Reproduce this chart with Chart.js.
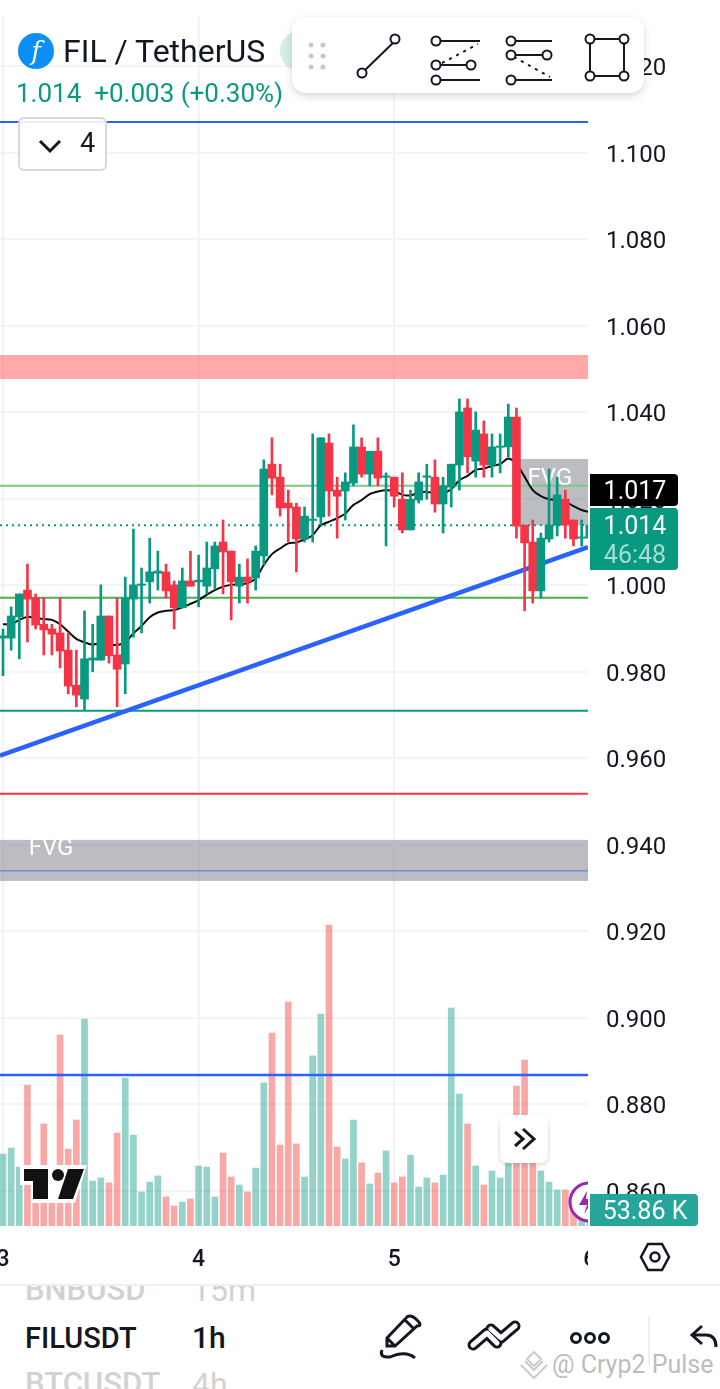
<!DOCTYPE html>
<html>
<head>
<meta charset="utf-8">
<title>FILUSDT 1h</title>
<script src="https://cdn.jsdelivr.net/npm/chart.js@4"></script>
<style>
  html, body { margin: 0; padding: 0; background: #fff; font-family: Roboto, sans-serif; color: #131722; }
  #wrap { position: relative; width: 720px; height: 1389px; overflow: hidden; }
  #chart { position: absolute; left: 0; top: 0; }
  .ov { position: absolute; white-space: nowrap; }
  .tag { color: #fff; text-align: center; font-size: 25px; border-radius: 0 4px 4px 0; padding-left: 2px; box-sizing: border-box; }
  svg { position: absolute; overflow: visible; }
</style>
</head>
<body>
<div id="wrap">
  <canvas id="chart" width="720" height="1389"></canvas>

  <!-- header -->
  <div class="ov" style="left:280px;top:31px;width:40px;height:40px;border-radius:50%;background:#d5eee9"></div>
  <div class="ov" style="left:18px;top:33px;width:36px;height:36px;border-radius:50%;background:#0a90f5;color:#fff;font:italic 26px/36px 'DejaVu Serif',serif;text-align:center">f</div>
  <div class="ov" style="left:63px;top:33px;font-size:32px;line-height:36px">FIL / TetherUS</div>
  <div class="ov" style="left:16px;top:76px;font-size:26px;line-height:34px;color:#089981">1.014&nbsp; +0.003 (+0.30%)</div>
  <div class="ov" style="left:18px;top:117px;width:85px;height:50px;border:2px solid #d8d8d8;border-radius:6px;background:rgba(255,255,255,.9)">
    <svg style="left:18px;top:20px" width="24" height="14"><path d="M2 2l10 10L22 2" fill="none" stroke="#131722" stroke-width="3"/></svg>
    <div class="ov" style="left:60px;top:8px;font-size:27px;line-height:32px">4</div>
  </div>

  <!-- drawing toolbar -->
  <div class="ov" style="left:292px;top:17px;width:352px;height:76px;background:#fff;border-radius:14px;box-shadow:0 3px 8px rgba(0,0,0,.16)"></div>
  <svg style="left:292px;top:17px" width="352" height="76" fill="#fff" stroke="#131722" stroke-width="2">
    <g fill="#c9c9c9" stroke="none">
      <circle cx="19" cy="28" r="2.5"/><circle cx="31" cy="28" r="2.5"/>
      <circle cx="19" cy="39" r="2.5"/><circle cx="31" cy="39" r="2.5"/>
      <circle cx="19" cy="50" r="2.5"/><circle cx="31" cy="50" r="2.5"/>
    </g>
    <path d="M71 55L103 24"/><circle cx="70" cy="56" r="4.5"/><circle cx="103" cy="22" r="4.5"/>
    <path d="M148 24h40M148 48h30M148 63h40"/><path d="M150 46L186 27" stroke-dasharray="3 5"/>
    <circle cx="144" cy="24" r="4.5"/><circle cx="144" cy="48" r="4.5"/><circle cx="179" cy="48" r="4.5"/><circle cx="144" cy="63" r="4.5"/>
    <path d="M220 24h40M220 38h30M220 63h40"/><path d="M222 40L258 60" stroke-dasharray="3 5"/>
    <circle cx="219" cy="24" r="4.5"/><circle cx="219" cy="38" r="4.5"/><circle cx="255" cy="38" r="4.5"/><circle cx="219" cy="63" r="4.5"/>
    <rect x="298" y="22" width="34" height="37"/><circle cx="298" cy="22" r="4.5"/><circle cx="332" cy="22" r="4.5"/><circle cx="298" cy="59" r="4.5"/><circle cx="332" cy="59" r="4.5"/>
  </svg>

  <!-- logo and scroll button -->
  <svg style="left:22px;top:1167px" width="66" height="34">
    <path d="M-2 -2H65L53 36H9V18H-2Z" fill="#fff"/>
    <path d="M2 2H26V32H11V14H2Z M46 2H62L51 32H36Z" fill="#111"/><circle cx="36" cy="8" r="6" fill="#111"/>
  </svg>
  <div class="ov" style="left:500px;top:1115px;width:48px;height:48px;border-radius:8px;background:#fff;box-shadow:0 2px 5px rgba(0,0,0,.15)">
    <svg style="left:14px;top:12px" width="22" height="24" fill="none" stroke="#131722" stroke-width="3"><path d="M1 5l8 7-8 7M9 2l11 10-11 10"/></svg>
  </div>
  <div class="ov" style="left:560px;top:1176px;width:28px;height:54px;overflow:hidden">
    <svg style="left:9px;top:6px" width="40" height="40"><circle cx="20" cy="20" r="19" fill="#fff" stroke="#9c27b0" stroke-width="3"/><path d="M18 9L10 23h8l-3 9 10-15h-8z" fill="#9c27b0"/></svg>
  </div>

  <!-- price scale labels -->
  <div class="ov tag" style="left:590px;top:474px;width:88px;height:32px;background:#000;line-height:34px">1.017</div>
  <div class="ov tag" style="left:590px;top:508px;width:88px;height:62px;background:#089981;line-height:29px;padding-top:3px">1.014<br><span style="color:#a8dcd1">46:48</span></div>
  <div class="ov tag" style="left:590px;top:1194px;width:108px;height:32px;background:#26a69a;line-height:34px">53.86 K</div>

  <!-- time scale corner -->
  <div class="ov" style="left:588px;top:1230px;width:132px;height:54px;background:#fff"></div>
  <svg style="left:640px;top:1242px" width="30" height="30" fill="none" stroke="#131722" stroke-width="2.5"><path d="M8 2h14l7 13-7 13H8L1 15z"/><circle cx="15" cy="15" r="4.5"/></svg>

  <!-- bottom bar -->
  <div class="ov" style="left:0;top:1284px;width:720px;height:105px;background:#fff;border-top:2px solid #efefef;overflow:hidden">
    <div class="ov" style="left:25px;top:-13px;font-size:31px;line-height:34px;font-weight:500;color:#d2d2d2">BNBUSD</div>
    <div class="ov" style="left:192px;top:-13px;font-size:32px;line-height:34px;color:#d2d2d2">15m</div>
    <div class="ov" style="left:25px;top:34px;font-size:29px;line-height:36px;font-weight:500">FILUSDT</div>
    <div class="ov" style="left:192px;top:34px;font-size:30px;line-height:36px;font-weight:500">1h</div>
    <div class="ov" style="left:25px;top:80px;width:135px;overflow:hidden;font-size:31px;line-height:36px;font-weight:500;color:#d2d2d2">BTCUSDT</div>
    <div class="ov" style="left:192px;top:80px;font-size:32px;line-height:36px;color:#d2d2d2">4h</div>
    <svg style="left:378px;top:28px" width="44" height="48" fill="none" stroke="#131722" stroke-width="3">
      <path d="M9 24L29 3Q33 0 39 6T39 12L17 32H9ZM27 6l8 8M9 24l8 8"/>
      <path d="M4 36Q1 44 12 43Q28 36 37 44"/>
    </svg>
    <svg style="left:470px;top:32px" width="48" height="34" fill="none" stroke-linecap="round" stroke-linejoin="round">
      <g stroke="#131722" stroke-width="11"><path d="M3 27L17 15L27 25"/><path d="M21 11L31 20L45 8"/></g>
      <g stroke="#fff" stroke-width="5"><path d="M3 27L17 15L27 25"/><path d="M21 11L31 20L45 8"/></g>
    </svg>
    <svg style="left:570px;top:44px" width="42" height="16" fill="none" stroke="#131722" stroke-width="3"><circle cx="6" cy="8" r="4.5"/><circle cx="20" cy="8" r="4.5"/><circle cx="34" cy="8" r="4.5"/></svg>
    <div class="ov" style="left:648px;top:30px;width:2px;height:50px;background:#efefef"></div>
    <svg style="left:690px;top:38px" width="30" height="28" fill="none" stroke="#131722" stroke-width="3"><path d="M12 2L2 11l10 9M2 11h14c7 0 10 5 10 12"/></svg>
  </div>

  <!-- watermark -->
  <svg style="left:520px;top:1351px" width="28" height="28" fill="none" stroke="rgba(140,140,140,.45)" stroke-width="2"><path d="M14 1l7 7-7 7-7-7zM5 10l9 9 9-9M1 14l13 13 13-13"/></svg>
  <div class="ov" style="left:552px;top:1348px;font-size:25px;line-height:34px;color:rgba(130,130,130,.55)">@ Cryp2 Pulse</div>
</div>

<script>
// hourly candles, day 3 00:00 onward
const opens = [
  0.9878, 0.9878, 0.9927, 0.9989, 0.9971, 0.9910, 0.9899, 0.9890, 0.9850, 0.9769, 0.9737, 0.9827,
  0.9827, 0.9929, 0.9839, 0.9818, 0.9968, 1.0000, 1.0008, 1.0028, 1.0031, 1.0001, 0.9948, 1.0010,
  1.0008, 0.9998, 1.0038, 1.0100, 1.0079, 0.9998, 1.0019, 1.0017, 1.0068, 1.0280, 1.0250, 1.0190,
  1.0181, 1.0107, 1.0150, 1.0158, 1.0329, 1.0220, 1.0218, 1.0236, 1.0320, 1.0257, 1.0310, 1.0250,
  1.0250, 1.0199, 1.0128, 1.0197, 1.0250, 1.0250, 1.0188, 1.0227, 1.0278, 1.0410, 1.0287, 1.0350,
  1.0278, 1.0319, 1.0320, 1.0389, 1.0139, 1.0100, 0.9987, 1.0107, 1.0139, 1.0199, 1.0151, 1.0109,
  1.0109];
const highs = [
  0.9899, 0.9950, 0.9980, 1.0049, 0.9980, 0.9971, 0.9910, 0.9971, 0.9890, 0.9850, 0.9941, 0.9910,
  1.0001, 0.9929, 0.9971, 1.0019, 1.0130, 1.0040, 1.0109, 1.0079, 1.0049, 1.0010, 1.0040, 1.0079,
  1.0070, 1.0100, 1.0100, 1.0151, 1.0079, 1.0049, 1.0061, 1.0091, 1.0290, 1.0341, 1.0280, 1.0220,
  1.0190, 1.0181, 1.0350, 1.0341, 1.0350, 1.0250, 1.0260, 1.0371, 1.0341, 1.0310, 1.0341, 1.0260,
  1.0250, 1.0260, 1.0220, 1.0260, 1.0280, 1.0290, 1.0250, 1.0280, 1.0431, 1.0431, 1.0401, 1.0380,
  1.0350, 1.0350, 1.0419, 1.0410, 1.0139, 1.0151, 1.0121, 1.0269, 1.0250, 1.0220, 1.0151, 1.0151,
  1.0139];
const lows = [
  0.9791, 0.9850, 0.9830, 0.9869, 0.9899, 0.9839, 0.9839, 0.9809, 0.9749, 0.9719, 0.9712, 0.9800,
  0.9827, 0.9820, 0.9719, 0.9749, 0.9880, 0.9890, 0.9959, 0.9989, 0.9971, 0.9899, 0.9948, 0.9998,
  0.9950, 0.9980, 0.9991, 0.9980, 0.9920, 0.9959, 0.9959, 0.9989, 1.0047, 1.0209, 1.0160, 1.0100,
  1.0031, 1.0100, 1.0100, 1.0139, 1.0160, 1.0109, 1.0151, 1.0230, 1.0250, 1.0230, 1.0230, 1.0091,
  1.0181, 1.0121, 1.0128, 1.0190, 1.0199, 1.0169, 1.0121, 1.0181, 1.0220, 1.0260, 1.0250, 1.0250,
  1.0250, 1.0260, 1.0297, 1.0109, 0.9941, 0.9959, 0.9971, 1.0100, 1.0114, 1.0109, 1.0091, 1.0091,
  1.0107];
const closes = [
  0.9883, 0.9929, 0.9980, 0.9968, 0.9908, 0.9897, 0.9887, 0.9848, 0.9767, 0.9746, 0.9830, 0.9832,
  0.9929, 0.9837, 0.9806, 0.9971, 1.0001, 1.0003, 1.0031, 1.0033, 0.9987, 0.9948, 1.0010, 0.9998,
  1.0012, 1.0040, 1.0091, 1.0077, 1.0008, 1.0019, 1.0008, 1.0079, 1.0269, 1.0248, 1.0179, 1.0179,
  1.0107, 1.0160, 1.0153, 1.0341, 1.0218, 1.0206, 1.0239, 1.0320, 1.0257, 1.0310, 1.0248, 1.0253,
  1.0206, 1.0128, 1.0199, 1.0239, 1.0253, 1.0188, 1.0230, 1.0280, 1.0401, 1.0297, 1.0359, 1.0278,
  1.0320, 1.0322, 1.0389, 1.0137, 1.0098, 0.9987, 1.0109, 1.0139, 1.0209, 1.0139, 1.0107, 1.0112,
  1.0139];
const maLine = [
  0.9910, 0.9910, 0.9920, 0.9927, 0.9924, 0.9922, 0.9920, 0.9910, 0.9893, 0.9876, 0.9868, 0.9863,
  0.9867, 0.9864, 0.9862, 0.9868, 0.9889, 0.9906, 0.9926, 0.9937, 0.9941, 0.9943, 0.9949, 0.9957,
  0.9966, 0.9978, 0.9989, 0.9997, 1.0001, 1.0002, 1.0005, 1.0016, 1.0047, 1.0072, 1.0085, 1.0097,
  1.0099, 1.0106, 1.0116, 1.0139, 1.0147, 1.0155, 1.0166, 1.0186, 1.0197, 1.0211, 1.0217, 1.0220,
  1.0218, 1.0209, 1.0208, 1.0214, 1.0216, 1.0213, 1.0213, 1.0222, 1.0243, 1.0253, 1.0267, 1.0270,
  1.0276, 1.0280, 1.0293, 1.0280, 1.0251, 1.0220, 1.0206, 1.0199, 1.0197, 1.0193, 1.0183, 1.0174,
  1.0169];
// volume in thousands
const volumes = [
  277, 300, 227, 543, 185, 393, 173, 735, 296, 408, 797, 173,
  185, 166, 358, 570, 350, 131, 169, 193, 112, 77, 92, 104,
  231, 227, 112, 281, 189, 158, 131, 223, 551, 743, 312, 862,
  316, 189, 655, 816, 1159, 304, 258, 408, 243, 162, 204, 289,
  166, 189, 273, 150, 185, 166, 196, 839, 508, 393, 231, 158,
  212, 185, 270, 539, 639, 308, 212, 169, 139, 139, 116, 62,
  53.86];

const hours = opens.map((_, i) => i);
const priceTicks = [1.12, 1.10, 1.08, 1.06, 1.04, 1.02, 1.00, 0.98, 0.96, 0.94, 0.92, 0.90, 0.88, 0.86];
const dayTicks = [0, 24, 48, 72];
const dayLabels = ['3', '4', '5', '6'];

// drawn levels on the chart
const levelPrices = [1.1071, 1.0230, 0.9971, 0.9710, 0.9518, 0.9340, 0.8868];
const levelColors = ['#2962ff', '#81c784', '#4caf50', '#089981', '#f23645', '#6f8fd8', '#2962ff'];
const levelWidths = [2, 2, 2, 2, 2, 1.5, 2.5];
const lastClose = 1.0139;
const trendPrices = [0.9606, 1.00885];

const zoneTops = [1.05325, 0.94113, 1.02921];
const zoneBottoms = [1.0477, 0.93165, 1.01388];
const zoneStarts = [-0.37, -0.37, 63.45];
const zoneColors = ['rgba(255,60,60,0.44)', 'rgba(120,123,134,0.5)', 'rgba(120,123,134,0.5)'];
const zoneLabels = ['', 'FVG', 'FVG'];
const zoneLabelAt = [0, 5.9, 67.1];
const zoneLabelPrices = [0, 0.9391, 1.0245];

const xMin = -0.37, xMax = 71.78;
const priceMin = 0.85186, priceMax = 1.1314;
const volMax = 4655;

const UP = '#089981', DOWN = '#f43547';
const candleColors = opens.map((o, i) => closes[i] >= o ? UP : DOWN);
const volColors = opens.map((o, i) => closes[i] >= o ? 'rgba(8,153,129,0.43)' : 'rgba(241,53,48,0.43)');
const GRID = '#f4f4f5';

const zonePlugin = {
  id: 'zones',
  beforeDatasetsDraw(chart) {
    const { ctx, chartArea, scales } = chart;
    ctx.save();
    ctx.beginPath();
    ctx.rect(chartArea.left, chartArea.top, chartArea.width, chartArea.height);
    ctx.clip();
    zoneTops.forEach((top, i) => {
      const y1 = scales.y.getPixelForValue(top);
      const y2 = scales.y.getPixelForValue(zoneBottoms[i]);
      const x1 = scales.x.getPixelForValue(zoneStarts[i]);
      ctx.fillStyle = zoneColors[i];
      ctx.fillRect(x1, y1, chartArea.right - x1, y2 - y1);
      if (zoneLabels[i]) {
        ctx.fillStyle = '#fff';
        ctx.font = '24px Roboto';
        ctx.textAlign = 'center';
        ctx.textBaseline = 'middle';
        ctx.fillText(zoneLabels[i], scales.x.getPixelForValue(zoneLabelAt[i]), scales.y.getPixelForValue(zoneLabelPrices[i]));
      }
    });
    ctx.restore();
  }
};

const levelSets = levelPrices.map((p, i) => ({
  type: 'line',
  data: [{ x: xMin, y: p }, { x: xMax, y: p }],
  borderColor: levelColors[i],
  borderWidth: levelWidths[i],
  pointRadius: 0,
  order: 7
}));

new Chart(document.getElementById('chart').getContext('2d'), {
  data: {
    labels: hours,
    datasets: [
      { type: 'bar', data: volumes, yAxisID: 'vol', backgroundColor: volColors, barThickness: 6, grouped: false, order: 9 },
      ...levelSets,
      {
        type: 'line',
        data: [{ x: xMin, y: lastClose }, { x: xMax, y: lastClose }],
        borderColor: UP, borderWidth: 2, borderDash: [2, 4], pointRadius: 0, order: 6
      },
      {
        type: 'line',
        data: [{ x: xMin, y: trendPrices[0] }, { x: xMax, y: trendPrices[1] }],
        borderColor: '#2962ff', borderWidth: 4.5, pointRadius: 0, order: 5
      },
      { type: 'line', data: maLine, borderColor: '#0c0c0c', borderWidth: 2, pointRadius: 0, tension: 0.3, order: 4 },
      { type: 'bar', data: lows.map((l, i) => [l, highs[i]]), backgroundColor: candleColors, barThickness: 2, grouped: false, order: 3 },
      { type: 'bar', data: opens.map((o, i) => [o, closes[i]]), backgroundColor: candleColors, barThickness: 8, grouped: false, order: 2 }
    ]
  },
  options: {
    responsive: false,
    animation: false,
    events: [],
    layout: { padding: { top: 17 } },
    plugins: { legend: { display: false }, tooltip: { enabled: false } },
    scales: {
      x: {
        type: 'linear',
        offset: false,
        min: xMin,
        max: xMax,
        afterFit(s) { s.height = 163; s.paddingLeft = 0; s.paddingRight = 0; },
        afterBuildTicks(s) { s.ticks = dayTicks.map(v => ({ value: v })); },
        border: { display: false },
        grid: {
          color: c => (c.tick && c.tick.value > xMax ? 'transparent' : GRID),
          lineWidth: 2,
          drawTicks: false,
          offset: false
        },
        ticks: {
          autoSkip: false,
          maxRotation: 0,
          padding: 20,
          color: '#131722',
          font: { family: 'Roboto', size: 23, weight: '500' },
          callback: v => dayLabels[dayTicks.indexOf(v)]
        }
      },
      y: {
        position: 'right',
        min: priceMin,
        max: priceMax,
        afterFit(s) { s.width = 132; s.paddingTop = 0; s.paddingBottom = 0; },
        afterBuildTicks(s) { s.ticks = priceTicks.map(v => ({ value: v })); },
        border: { display: false },
        grid: { color: GRID, lineWidth: 2, drawTicks: false },
        ticks: {
          autoSkip: false,
          padding: 18,
          labelOffset: 3,
          color: '#131722',
          font: { family: 'Roboto', size: 24 },
          callback: v => v.toFixed(3)
        }
      },
      vol: { display: false, position: 'left', min: 0, max: volMax }
    }
  },
  plugins: [zonePlugin]
});
</script>
</body>
</html>
